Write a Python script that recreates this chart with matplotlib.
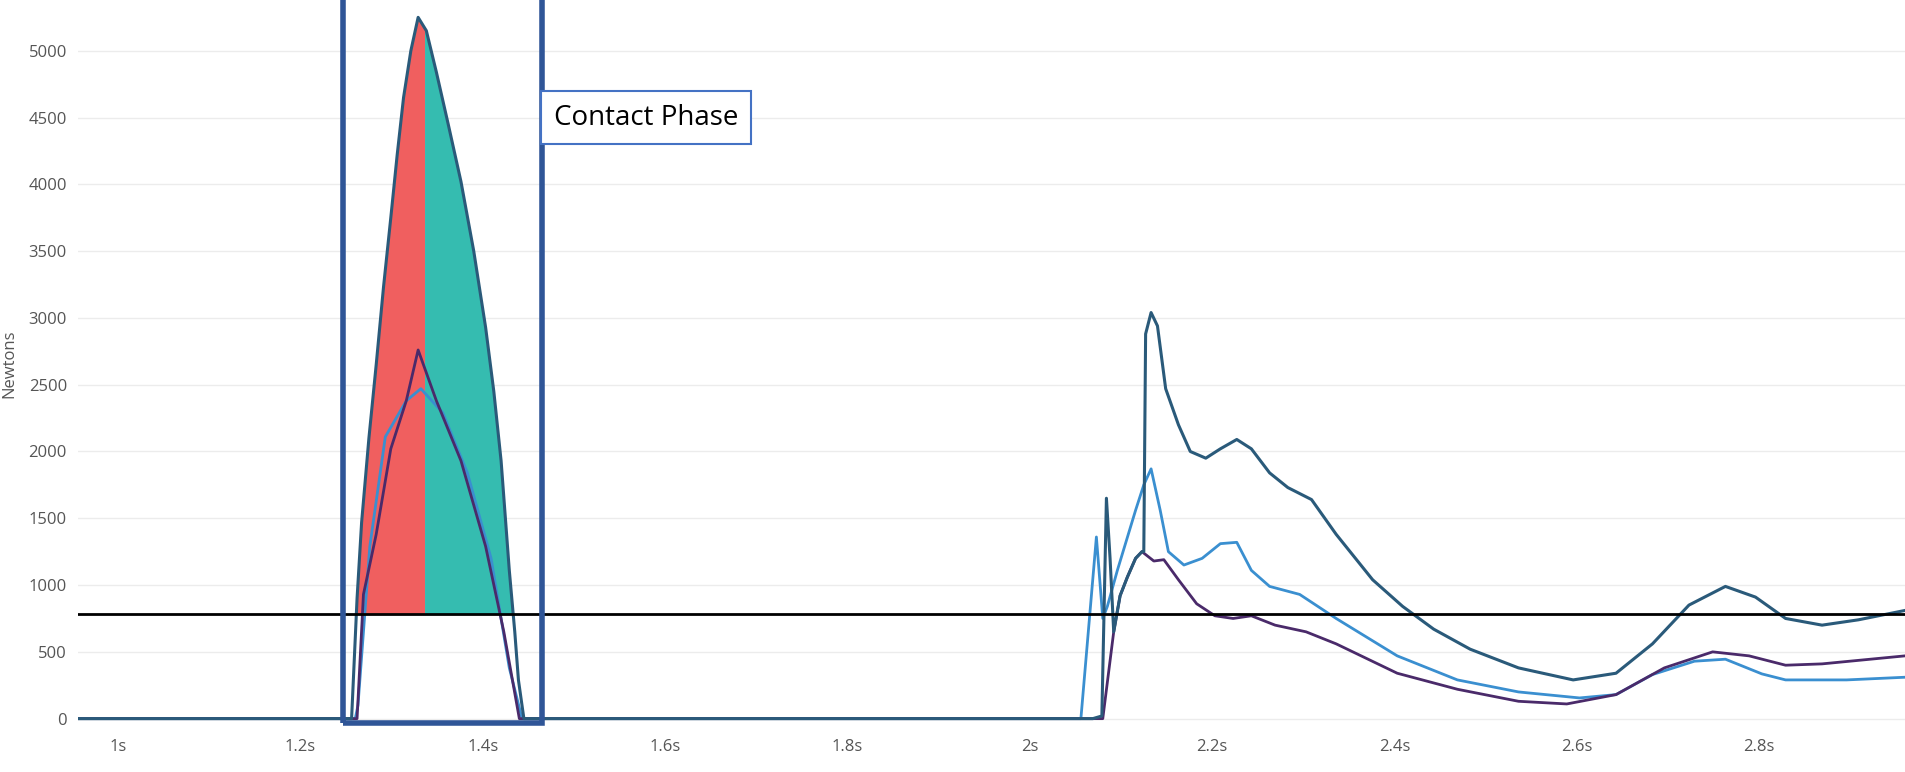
import numpy as np
import matplotlib.pyplot as plt
from matplotlib.patches import Rectangle

# total force (dark blue), left leg (purple), right leg (light blue)
t_total = [0.95, 1.256, 1.262, 1.267, 1.275, 1.283, 1.291, 1.299, 1.306, 1.313, 1.321, 1.329, 1.338, 1.349, 1.362,
           1.376, 1.39, 1.403, 1.412, 1.42, 1.429, 1.435, 1.439, 1.445,
           2.069, 2.079, 2.084, 2.088, 2.092, 2.099, 2.107, 2.116, 2.123, 2.125, 2.127, 2.133, 2.14, 2.149,
           2.163, 2.176, 2.193, 2.209, 2.227, 2.243, 2.263, 2.283, 2.309, 2.336, 2.376, 2.409, 2.443, 2.483,
           2.536, 2.596, 2.643, 2.683, 2.723, 2.763, 2.796, 2.829, 2.869, 2.909, 2.96]
f_total = [0, 0, 900, 1470, 2100, 2650, 3230, 3750, 4220, 4650, 5000, 5250, 5150, 4840, 4450,
           4020, 3500, 2930, 2450, 1930, 1110, 650, 290, 0,
           0, 20, 1650, 1200, 650, 920, 1060, 1200, 1250, 1250, 2880, 3040, 2940, 2470,
           2200, 2000, 1950, 2020, 2090, 2020, 1840, 1730, 1640, 1380, 1040, 840, 670, 520,
           380, 290, 340, 560, 850, 990, 910, 750, 700, 740, 810]

t_left = [0.95, 1.262, 1.269, 1.283, 1.299, 1.316, 1.329, 1.349, 1.376, 1.403, 1.423, 1.44,
          2.08, 2.092, 2.099, 2.107, 2.116, 2.123, 2.136, 2.147, 2.163, 2.183, 2.203, 2.223, 2.243, 2.269,
          2.303, 2.336, 2.403, 2.469, 2.536, 2.589, 2.643, 2.696, 2.749, 2.789, 2.829, 2.869, 2.96]
f_left = [0, 0, 930, 1380, 2020, 2380, 2760, 2380, 1930, 1290, 650, 0,
          0, 650, 920, 1060, 1200, 1250, 1180, 1190, 1040, 860, 770, 750, 770, 700,
          650, 560, 340, 220, 130, 110, 180, 380, 500, 470, 400, 410, 470]

t_right = [0.95, 1.26, 1.263, 1.276, 1.293, 1.316, 1.332, 1.356, 1.383, 1.409, 1.429, 1.443,
           2.056, 2.073, 2.08, 2.085, 2.096, 2.116, 2.125, 2.133, 2.143, 2.152, 2.169, 2.189,
           2.209, 2.227, 2.243, 2.263, 2.296, 2.336, 2.403, 2.469, 2.536, 2.603, 2.643, 2.683,
           2.729, 2.763, 2.803, 2.829, 2.896, 2.96]
f_right = [0, 0, 100, 1290, 2110, 2380, 2470, 2290, 1840, 1200, 380, 0,
           0, 1360, 750, 840, 1110, 1560, 1750, 1870, 1560, 1250, 1150, 1200,
           1310, 1320, 1110, 990, 930, 750, 470, 290, 200, 155, 180, 330,
           430, 445, 335, 290, 290, 310]

threshold = 780
split_t = 1.336
phase_start, phase_end = 1.247, 1.465

plt.rcParams['font.family'] = ['Open Sans', 'DejaVu Sans']
fig = plt.figure(figsize=(19.05, 7.72), dpi=100)
ax = fig.add_axes([0.041, 0.057, 0.959, 0.943])
ax.set_axisbelow(True)

# contact impulse fill above threshold, split into two halves
tt = np.array(t_total[:24])
ff = np.array(f_total[:24])
split_f = np.interp(split_t, tt, ff)
left = tt < split_t
ax.fill_between(np.append(tt[left], split_t), threshold, np.append(ff[left], split_f),
                where=np.append(ff[left], split_f) >= threshold, interpolate=True,
                color='#f05f5f', lw=0, zorder=2)
right = tt > split_t
ax.fill_between(np.insert(tt[right], 0, split_t), threshold, np.insert(ff[right], 0, split_f),
                where=np.insert(ff[right], 0, split_f) >= threshold, interpolate=True,
                color='#35bcb0', lw=0, zorder=2)

kw = dict(solid_joinstyle='round', zorder=3)
ax.plot(t_right, f_right, color='#3a8fd0', lw=2, **kw)
ax.plot(t_left, f_left, color='#4a2a6a', lw=2, **kw)
ax.plot(t_total, f_total, color='#2a5a7a', lw=2.2, **kw)
ax.axhline(threshold, color='black', lw=2, zorder=4)

ax.set_xlim(0.956, 2.96)
ax.set_ylim(-70, 5380)
ax.set_xticks([1, 1.2, 1.4, 1.6, 1.8, 2, 2.2, 2.4, 2.6, 2.8])
ax.set_xticklabels(['1s', '1.2s', '1.4s', '1.6s', '1.8s', '2s', '2.2s', '2.4s', '2.6s', '2.8s'])
ax.set_yticks(range(0, 5001, 500))
ax.tick_params(length=0, labelsize=12, colors='#555555', pad=8)
ax.grid(axis='y', color='#ececec', lw=1)
for s in ax.spines.values():
    s.set_visible(False)
ax.set_ylabel('Newtons', fontsize=12, color='#555555', labelpad=8)

ax.add_patch(Rectangle((phase_start, -30), phase_end - phase_start, 5420, fill=False,
                       ec='#2f5597', lw=4, clip_on=False, zorder=5))
ax.text(1.478, 4500, 'Contact Phase', fontsize=20, va='center', ha='left',
        bbox=dict(boxstyle='square,pad=0.45', fc='white', ec='#4472c4', lw=1.5), zorder=6)

fig.savefig('out.png')
